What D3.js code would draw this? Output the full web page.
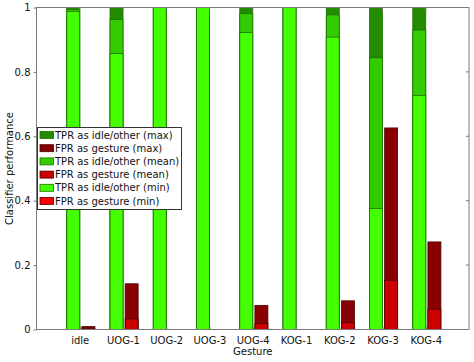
<!DOCTYPE html>
<html><head><meta charset="utf-8">
<script src="https://cdn.jsdelivr.net/npm/d3@7"></script>
<style>body{margin:0;background:#fff}svg{display:block;font-family:"DejaVu Sans",sans-serif}</style>
</head><body><svg id="c" width="474" height="362"></svg>
<script>
const categories = ["idle","UOG-1","UOG-2","UOG-3","UOG-4","KOG-1","KOG-2","KOG-3","KOG-4"];
const tprMax  = [1,1,1,1,1,1,1,1,1];
const tprMean = [0.994,0.963,1,1,0.981,1,0.977,0.844,0.930];
const tprMin  = [0.988,0.857,1,1,0.922,1,0.908,0.376,0.727];
const fprMax  = [0.009,0.142,0,0,0.075,0,0.089,0.626,0.272];
const fprMean = [0.004,0.033,0,0,0.019,0,0.022,0.153,0.063];
const fprMin  = [0,0,0,0,0,0,0,0,0];
const yTicks = [0,0.2,0.4,0.6,0.8,1];
const legendLabels = ["TPR as idle/other (max)","FPR as gesture (max)","TPR as idle/other (mean)","FPR as gesture (mean)","TPR as idle/other (min)","FPR as gesture (min)"];

const col = {tmax:"#228b00", tmean:"#33cc00", tmin:"#44ff00", fmax:"#880000", fmean:"#cc0000", fmin:"#ff0000"};
const strokeG = "#1d7000", strokeR = "#4a0000";

const svg = d3.select("#c");
const L=36.5, R=469, T=7.5, B=329.5;
const x = d3.scaleLinear().domain([0,10]).range([L,R]);
const y = d3.scaleLinear().domain([0,1]).range([B,T]);
const idx = categories.map((d,i)=>i+1);

function bars(vals, off, fill, stroke){
  svg.append("g").selectAll("rect").data(vals).enter().append("rect")
    .attr("x",(d,i)=>x(idx[i]+off)).attr("width",x(0.3)-x(0))
    .attr("y",d=>y(d)).attr("height",d=>y(0)-y(d))
    .attr("fill",fill).attr("stroke",d=>d>0?stroke:"none").attr("stroke-width",0.8);
}
bars(tprMax,-0.3,col.tmax,strokeG);
bars(tprMean,-0.3,col.tmean,strokeG);
bars(tprMin,-0.3,col.tmin,strokeG);
bars(fprMax,0.05,col.fmax,strokeR);
bars(fprMean,0.05,col.fmean,strokeR);
bars(fprMin,0.05,col.fmin,strokeR);

// frame
svg.append("rect").attr("x",L).attr("y",T).attr("width",R-L).attr("height",B-T)
  .attr("fill","none").attr("stroke","#7a7a7a").attr("stroke-width",1);

// y axis
const yAx = svg.append("g").attr("transform",`translate(${L},0)`)
  .call(d3.axisLeft(y).tickValues(yTicks).tickFormat(d=>d===0?"0":d===1?"1":d3.format(".1f")(d)).tickSize(3).tickPadding(3));
yAx.select(".domain").remove();
yAx.selectAll("line").attr("stroke","#7a7a7a");
yAx.selectAll("text").attr("font-size",10).attr("fill","#111").attr("font-family","DejaVu Sans");
// right inward ticks
svg.append("g").selectAll("line").data(yTicks).enter().append("line")
  .attr("x1",R).attr("x2",R-3).attr("y1",d=>y(d)).attr("y2",d=>y(d)).attr("stroke","#7a7a7a");

// x axis
const xAx = svg.append("g").attr("transform",`translate(0,${B})`)
  .call(d3.axisBottom(x).tickValues(idx).tickFormat((d,i)=>categories[i]).tickSize(-3).tickPadding(7));
xAx.select(".domain").remove();
xAx.selectAll("line").attr("stroke","#7a7a7a");
xAx.selectAll("text").attr("font-size",10).attr("fill","#111").attr("font-family","DejaVu Sans");
// top inward ticks
svg.append("g").selectAll("line").data(idx).enter().append("line")
  .attr("x1",d=>x(d)).attr("x2",d=>x(d)).attr("y1",T).attr("y2",T+3).attr("stroke","#7a7a7a");

// axis labels
svg.append("text").attr("x",(L+R)/2).attr("y",355).attr("text-anchor","middle")
  .attr("font-size",10).attr("fill","#111").text("Gesture");
svg.append("text").attr("transform",`translate(13,${(T+B)/2}) rotate(-90)`).attr("text-anchor","middle")
  .attr("font-size",10).attr("fill","#111").text("Classifier performance");

// legend
const lg = svg.append("g");
lg.append("rect").attr("x",37.5).attr("y",127.5).attr("width",144).attr("height",82)
  .attr("fill","#fff").attr("stroke","#333").attr("stroke-width",1);
const lcols=[col.tmax,col.fmax,col.tmean,col.fmean,col.tmin,col.fmin];
const lstr=[strokeG,strokeR,strokeG,strokeR,strokeG,strokeR];
legendLabels.forEach((t,i)=>{
  const cy = 135 + i*13.2;
  lg.append("rect").attr("x",40).attr("y",cy-3.5).attr("width",13.5).attr("height",7)
    .attr("fill",lcols[i]).attr("stroke",lstr[i]).attr("stroke-width",0.8);
  lg.append("text").attr("x",55).attr("y",cy+3.6).attr("font-size",10).attr("fill","#111").text(t);
});
</script></body></html>
